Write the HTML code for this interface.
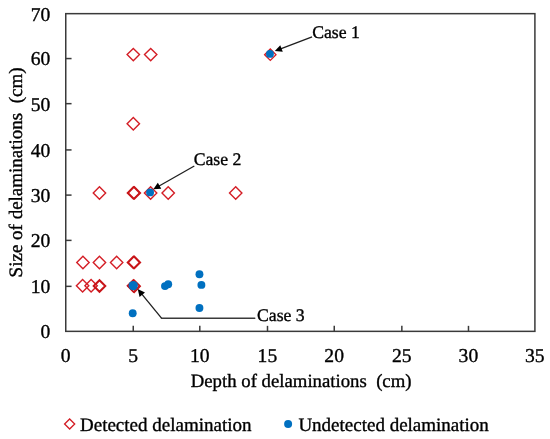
<!DOCTYPE html>
<html><head><meta charset="utf-8"><style>
html,body{margin:0;padding:0;background:#fff;}
svg{display:block;}
text{text-rendering:geometricPrecision;font-family:"Liberation Serif","Times New Roman",serif;font-size:19px;fill:#000;stroke:#000;stroke-width:0.35px;}
</style></head><body>
<svg width="550" height="439" viewBox="0 0 550 439">
<rect x="65.75" y="13.66" width="469.15" height="317.69" fill="none" stroke="#3a3a3a" stroke-width="1.5"/>
<line x1="133.25" y1="331.35" x2="133.25" y2="325.85" stroke="#3a3a3a" stroke-width="1.5"/>
<line x1="199.80" y1="331.35" x2="199.80" y2="325.85" stroke="#3a3a3a" stroke-width="1.5"/>
<line x1="267.50" y1="331.35" x2="267.50" y2="325.85" stroke="#3a3a3a" stroke-width="1.5"/>
<line x1="334.25" y1="331.35" x2="334.25" y2="325.85" stroke="#3a3a3a" stroke-width="1.5"/>
<line x1="401.85" y1="331.35" x2="401.85" y2="325.85" stroke="#3a3a3a" stroke-width="1.5"/>
<line x1="468.48" y1="331.35" x2="468.48" y2="325.85" stroke="#3a3a3a" stroke-width="1.5"/>
<line x1="65.75" y1="286.35" x2="71.55" y2="286.35" stroke="#3a3a3a" stroke-width="1.5"/>
<line x1="65.75" y1="240.39" x2="71.55" y2="240.39" stroke="#3a3a3a" stroke-width="1.5"/>
<line x1="65.75" y1="195.10" x2="71.55" y2="195.10" stroke="#3a3a3a" stroke-width="1.5"/>
<line x1="65.75" y1="149.93" x2="71.55" y2="149.93" stroke="#3a3a3a" stroke-width="1.5"/>
<line x1="65.75" y1="103.66" x2="71.55" y2="103.66" stroke="#3a3a3a" stroke-width="1.5"/>
<line x1="65.75" y1="58.56" x2="71.55" y2="58.56" stroke="#3a3a3a" stroke-width="1.5"/>
<text x="65.60" y="361.5" text-anchor="middle" style="font-size:19.6px">0</text>
<text x="133.15" y="361.5" text-anchor="middle" style="font-size:19.6px">5</text>
<text x="199.70" y="361.5" text-anchor="middle" style="font-size:19.6px">10</text>
<text x="267.40" y="361.5" text-anchor="middle" style="font-size:19.6px">15</text>
<text x="334.15" y="361.5" text-anchor="middle" style="font-size:19.6px">20</text>
<text x="401.75" y="361.5" text-anchor="middle" style="font-size:19.6px">25</text>
<text x="468.38" y="361.5" text-anchor="middle" style="font-size:19.6px">30</text>
<text x="534.84" y="361.5" text-anchor="middle" style="font-size:19.6px">35</text>
<text x="50.3" y="338.20" text-anchor="end" style="font-size:19.6px">0</text>
<text x="50.3" y="293.25" text-anchor="end" style="font-size:19.6px">10</text>
<text x="50.3" y="247.29" text-anchor="end" style="font-size:19.6px">20</text>
<text x="50.3" y="202.00" text-anchor="end" style="font-size:19.6px">30</text>
<text x="50.3" y="156.83" text-anchor="end" style="font-size:19.6px">40</text>
<text x="50.3" y="110.56" text-anchor="end" style="font-size:19.6px">50</text>
<text x="50.3" y="65.46" text-anchor="end" style="font-size:19.6px">60</text>
<text x="50.3" y="20.56" text-anchor="end" style="font-size:19.6px">70</text>
<text x="301.15" y="387.4" text-anchor="middle" xml:space="preserve" style="font-size:18.75px">Depth of delaminations  (cm)</text>
<text transform="translate(21.8,172.4) rotate(-90)" x="0" y="0" text-anchor="middle" xml:space="preserve">Size of delaminations  (cm)</text>
<path d="M127.10,54.60 L133.30,48.40 L139.50,54.60 L133.30,60.80 Z" fill="none" stroke="#d41e26" stroke-width="1.4"/>
<path d="M144.50,54.60 L150.70,48.40 L156.90,54.60 L150.70,60.80 Z" fill="none" stroke="#d41e26" stroke-width="1.4"/>
<path d="M127.10,123.80 L133.30,117.60 L139.50,123.80 L133.30,130.00 Z" fill="none" stroke="#d41e26" stroke-width="1.4"/>
<path d="M93.25,193.05 L99.45,186.85 L105.65,193.05 L99.45,199.25 Z" fill="none" stroke="#d41e26" stroke-width="1.4"/>
<path d="M144.40,193.00 L150.60,186.80 L156.80,193.00 L150.60,199.20 Z" fill="none" stroke="#d41e26" stroke-width="1.4"/>
<path d="M162.00,193.00 L168.20,186.80 L174.40,193.00 L168.20,199.20 Z" fill="none" stroke="#d41e26" stroke-width="1.4"/>
<path d="M229.50,193.05 L235.70,186.85 L241.90,193.05 L235.70,199.25 Z" fill="none" stroke="#d41e26" stroke-width="1.4"/>
<path d="M76.75,262.45 L82.95,256.25 L89.15,262.45 L82.95,268.65 Z" fill="none" stroke="#d41e26" stroke-width="1.4"/>
<path d="M93.25,262.45 L99.45,256.25 L105.65,262.45 L99.45,268.65 Z" fill="none" stroke="#d41e26" stroke-width="1.4"/>
<path d="M110.45,262.45 L116.65,256.25 L122.85,262.45 L116.65,268.65 Z" fill="none" stroke="#d41e26" stroke-width="1.4"/>
<path d="M76.40,285.80 L82.60,279.60 L88.80,285.80 L82.60,292.00 Z" fill="none" stroke="#d41e26" stroke-width="1.4"/>
<path d="M84.90,285.80 L91.10,279.60 L97.30,285.80 L91.10,292.00 Z" fill="none" stroke="#d41e26" stroke-width="1.4"/>
<path d="M264.60,54.70 L270.30,49.00 L276.00,54.70 L270.30,60.40 Z" fill="none" stroke="#d41e26" stroke-width="1.3"/>
<path d="M127.30,192.95 L133.40,186.85 L139.50,192.95 L133.40,199.05 Z" fill="none" stroke="#c81418" stroke-width="1.4"/>
<path d="M128.30,192.95 L134.40,186.85 L140.50,192.95 L134.40,199.05 Z" fill="none" stroke="#c81418" stroke-width="1.4"/>
<path d="M127.30,262.40 L133.40,256.30 L139.50,262.40 L133.40,268.50 Z" fill="none" stroke="#c81418" stroke-width="1.4"/>
<path d="M128.30,262.40 L134.40,256.30 L140.50,262.40 L134.40,268.50 Z" fill="none" stroke="#c81418" stroke-width="1.4"/>
<path d="M127.30,285.80 L133.40,279.70 L139.50,285.80 L133.40,291.90 Z" fill="none" stroke="#c81418" stroke-width="1.4"/>
<path d="M128.10,286.30 L134.20,280.20 L140.30,286.30 L134.20,292.40 Z" fill="none" stroke="#c81418" stroke-width="1.4"/>
<path d="M93.70,286.00 L99.50,280.20 L105.30,286.00 L99.50,291.80 Z" fill="none" stroke="#c81418" stroke-width="2.0"/>
<circle cx="269.95" cy="53.90" r="3.95" fill="#0070c0"/>
<circle cx="150.10" cy="192.40" r="3.95" fill="#0070c0"/>
<circle cx="132.70" cy="313.30" r="3.95" fill="#0070c0"/>
<circle cx="165.00" cy="286.10" r="3.95" fill="#0070c0"/>
<circle cx="168.20" cy="284.30" r="3.95" fill="#0070c0"/>
<circle cx="199.45" cy="274.30" r="3.95" fill="#0070c0"/>
<circle cx="201.40" cy="284.90" r="3.95" fill="#0070c0"/>
<circle cx="199.45" cy="308.05" r="3.95" fill="#0070c0"/>
<circle cx="133.20" cy="285.60" r="4.7" fill="#0070c0"/>
<line x1="312.10" y1="36.80" x2="280.59" y2="48.79" stroke="#1e1e1e" stroke-width="1.3"/><path d="M274.80,51.00 L280.28,45.17 L282.77,51.71 Z" fill="#000"/>
<line x1="194.30" y1="166.00" x2="158.69" y2="186.24" stroke="#1e1e1e" stroke-width="1.3"/><path d="M153.30,189.30 L157.83,182.70 L161.29,188.79 Z" fill="#000"/>
<line x1="254.8" y1="318.2" x2="161.5" y2="318.2" stroke="#3a3a3a" stroke-width="1.4" stroke-linecap="round"/>
<line x1="161.50" y1="318.20" x2="141.63" y2="293.90" stroke="#1e1e1e" stroke-width="1.3"/><path d="M137.70,289.10 L144.97,292.46 L139.55,296.89 Z" fill="#000"/>
<text x="312.2" y="38.2" style="font-size:17.7px">Case 1</text>
<text x="193.7" y="165.1" style="font-size:17.7px">Case 2</text>
<text x="257" y="321.2" style="font-size:17.7px">Case 3</text>
<path d="M64.6,424.0 L69.65,418.95 L74.7,424.0 L69.65,429.05 Z" fill="none" stroke="#d41e26" stroke-width="1.35"/>
<text x="80" y="430.9">Detected delamination</text>
<circle cx="288.1" cy="423.9" r="4.0" fill="#0070c0"/>
<text x="298.4" y="430.9">Undetected delamination</text>
</svg>
</body></html>
